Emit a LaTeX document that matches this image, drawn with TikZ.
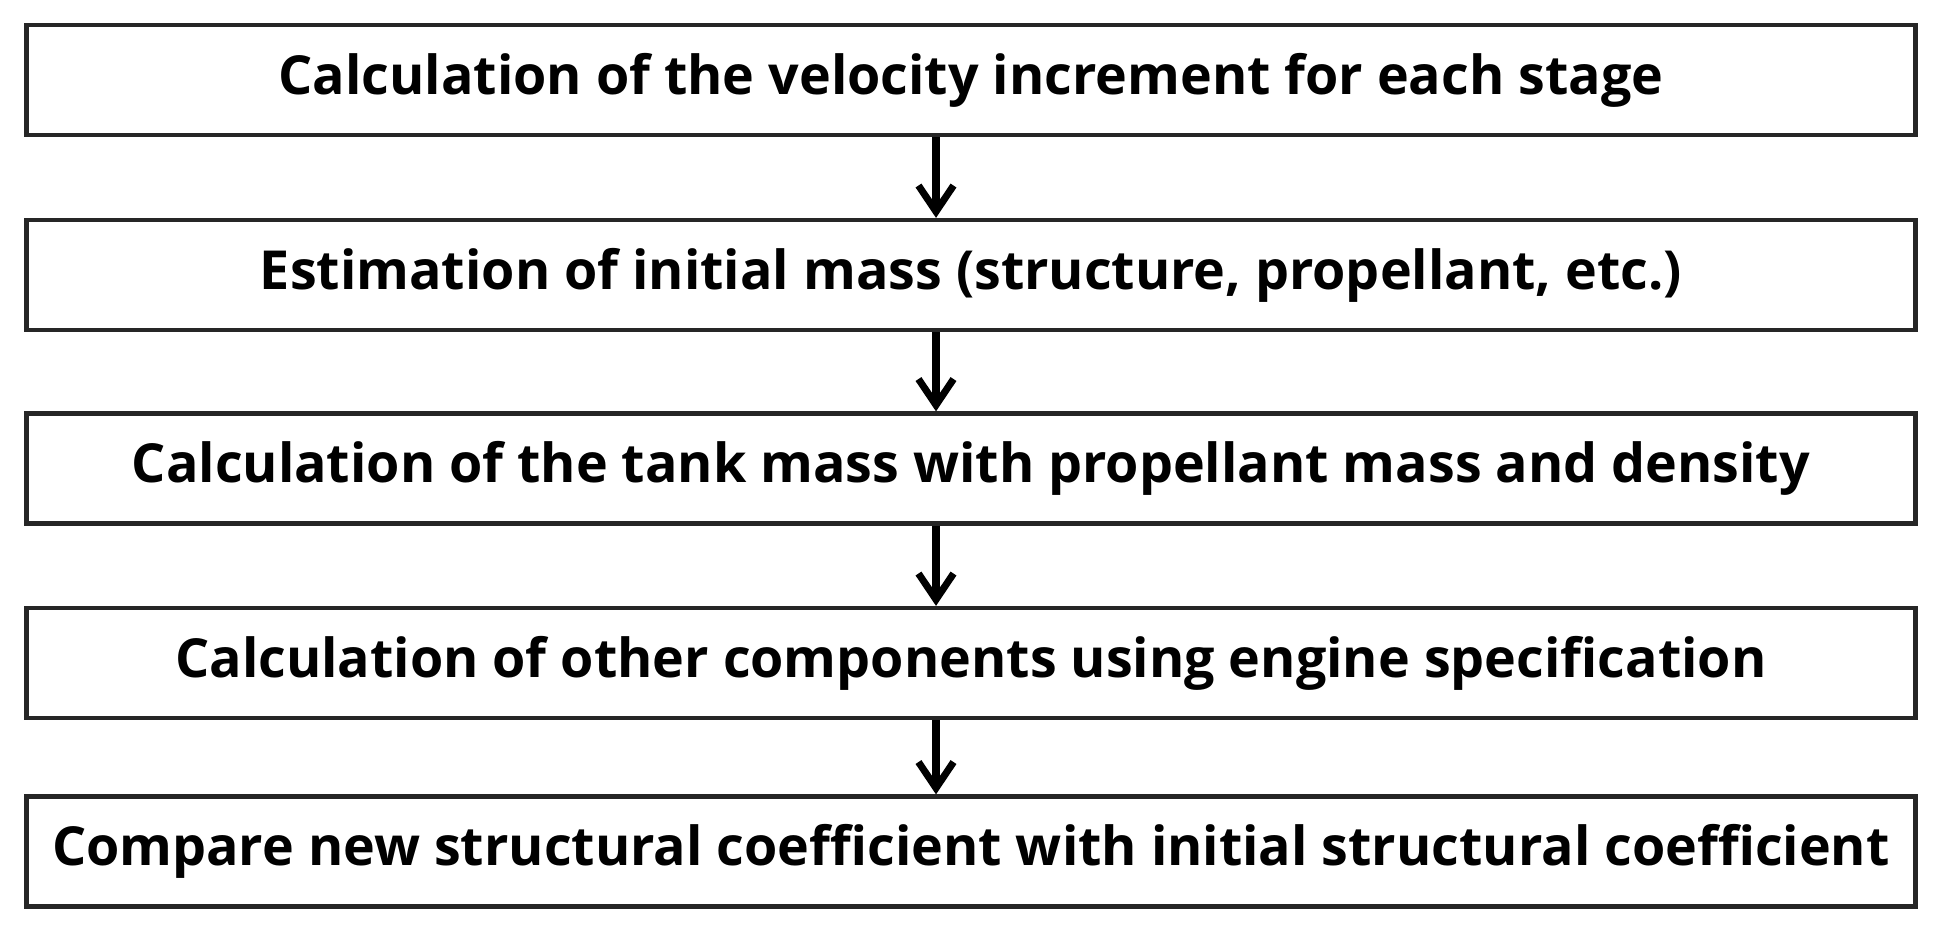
\documentclass[tikz,border=0pt]{standalone}
\usepackage{fontspec}
\setmainfont{Open Sans}[BoldFont={* Bold}]
\usetikzlibrary{arrows.meta}

\tikzset{
    stagebox/.style={draw=black!85,line width=1.2pt,fill=white,minimum width=18.88cm,
        minimum height=1.1cm,inner sep=0pt,font=\fontsize{15.3}{18}\selectfont\bfseries},
    flow/.style={line width=2pt,-{Straight Barb[length=2.6mm,width=3.5mm,line width=2pt]}}
}

\begin{document}
\begin{tikzpicture}[x=0.01cm,y=-0.01cm]
        \useasboundingbox (0,0) rectangle (1948,933);
        \node[stagebox] (velocity) at (971,80)    {Calculation of the velocity increment for each stage};
        \node[stagebox] (initmass) at (971,275)   {Estimation of initial mass (structure, propellant, etc.)};
        \node[stagebox] (tankmass) at (971,468.5) {Calculation of the tank mass with propellant mass and density};
        \node[stagebox] (others) at (971,663)     {Calculation of other components using engine specification};
        \node[stagebox] (compare) at (971,851.5)  {Compare new structural coefficient with initial structural coefficient};
        % arrows sit a bit left of the box centres
        \coordinate (axis) at (936,0);
        \foreach \a/\b in {velocity/initmass,initmass/tankmass,tankmass/others,others/compare}
            \draw[flow] (\a.south -| axis) -- (\b.north -| axis);
    \end{tikzpicture}
\end{document}
